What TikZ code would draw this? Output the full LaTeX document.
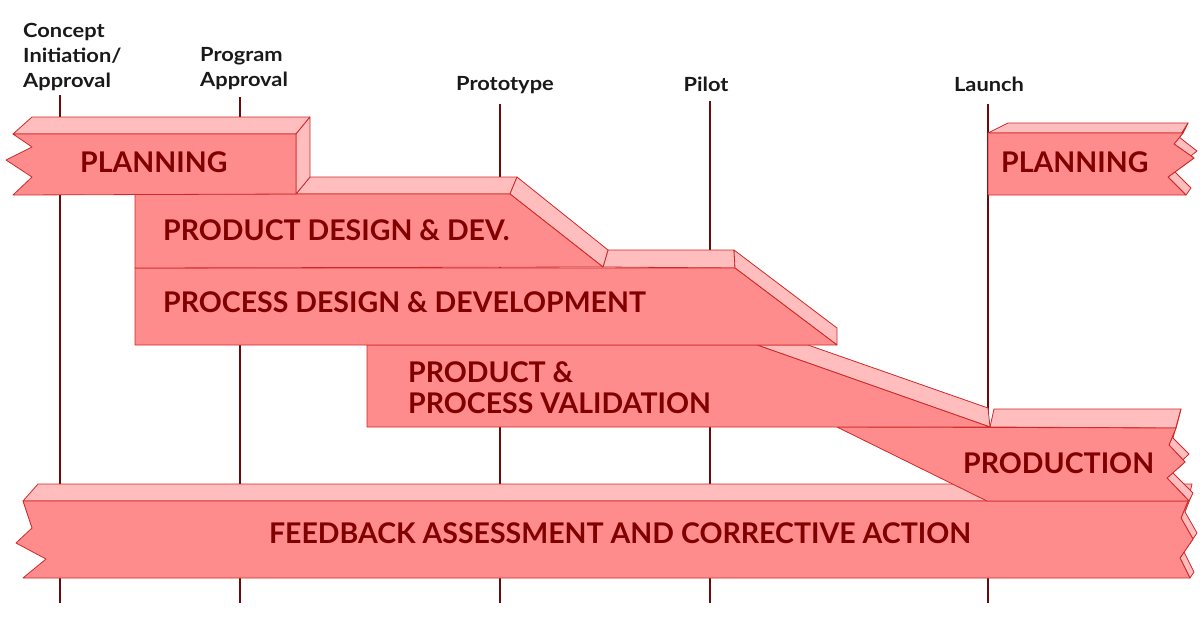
\documentclass[tikz,border=0pt]{standalone}
\usepackage{fontspec}
\setmainfont{Lato}
\newfontfamily\gatefont[FakeStretch=1.12]{Lato}
\usepackage{tikz}

\definecolor{barfront}{HTML}{FF8C8C}
\definecolor{barside}{HTML}{FFBDBD}
\definecolor{baredge}{HTML}{D02828}
\definecolor{bartext}{HTML}{800000}
\definecolor{mileline}{HTML}{6A0A0A}

\begin{document}
\begin{tikzpicture}[x=1pt,y=-1pt]
    \tikzstyle{front} = [fill=barfront, draw=baredge, line width=0.8pt, line join=round]
    \tikzstyle{side} = [fill=barside, draw=baredge, line width=0.8pt, line join=round]
    \tikzstyle{phase} = [font=\bfseries\fontsize{28.5}{31}\selectfont, text=bartext, inner sep=0pt, align=left]
    \tikzstyle{gate} = [font=\gatefont\bfseries\fontsize{19.5}{25}\selectfont, text=black!90, inner sep=0pt, align=left]
    \tikzstyle{milestone} = [draw=mileline, line width=1.6pt]
    \useasboundingbox (0,0) rectangle (1200,630);

    \node[gate, anchor=south west] (concept) at (23,91) {Concept\\Initiation/\\Approval};
    \node[gate, anchor=south west] (program) at (200,90) {Program\\Approval};
    \node[gate, anchor=base] (proto) at (505,90) {Prototype};
    \node[gate, anchor=base] (pilot) at (706,91) {Pilot};
    \node[gate, anchor=base] (launch) at (989,91) {Launch};

    \foreach \x/\t in {60/95, 240/97, 500/104, 710/101, 988/104} {
        \draw[milestone] (\x,\t) -- (\x,603);
    }

    % feedback
    \draw[side] (23,501) -- (38,484) -- (1192,484) -- (1188,501) -- cycle;
    \draw[side] (1188,501) -- (1192,494) -- (1185,512) -- (1197,533) -- (1184,552) -- (1194,572) -- (1190,578)
        -- (1180,558) -- (1193,539) -- (1181,518) -- cycle;
    \draw[front] (23,501) -- (1188,501) -- (1181,518) -- (1193,539) -- (1180,558) -- (1190,578)
        -- (23,578) -- (46,559) -- (16,543) -- (32,528) -- cycle;
    \node[phase, anchor=base] (feedback) at (620,543) {FEEDBACK ASSESSMENT AND CORRECTIVE ACTION};

    % production
    \draw[side] (990,427) -- (994,409) -- (1181,409) -- (1176,428) -- cycle;
    \draw[side] (1176,428) -- (1181,409) -- (1173,438) -- (1189,454) -- (1171,471) -- (1193,493) -- (1189,501)
        -- (1167,478) -- (1185,462) -- (1169,445) -- cycle;
    \draw[front] (837,427) -- (1176,428) -- (1169,445) -- (1185,462) -- (1167,478) -- (1189,501)
        -- (987,501) -- cycle;
    \node[phase, anchor=base west] (production) at (963,473) {PRODUCTION};

    % validation
    \draw[side] (757,345) -- (808,345) -- (988,408) -- (990,427) -- cycle;
    \draw[front] (367,345) -- (757,345) -- (990,427) -- (367,427) -- cycle;
    \node[phase, anchor=base west] (validation) at (408,413) {PRODUCT \&\\PROCESS VALIDATION};

    % process design
    \draw[side] (603,267) -- (608,250) -- (734,250) -- (735,268) -- cycle;
    \draw[side] (735,268) -- (734,250) -- (837,328) -- (837,345) -- cycle;
    \draw[front] (135,268) -- (735,268) -- (837,345) -- (135,345) -- cycle;
    \node[phase, anchor=base west] (process) at (163,312) {PROCESS DESIGN \& DEVELOPMENT};

    % product design
    \draw[side] (296,194) -- (310,177) -- (517,177) -- (510,194) -- cycle;
    \draw[side] (510,194) -- (517,177) -- (608,250) -- (603,267) -- cycle;
    \draw[front] (135,194) -- (510,194) -- (603,267) -- (135,268) -- cycle;
    \node[phase, anchor=base west] (product) at (163,240) {PRODUCT DESIGN \& DEV.};

    % planning
    \draw[side] (13,134) -- (32,117) -- (310,117) -- (296,134) -- cycle;
    \draw[side] (296,134) -- (310,117) -- (310,177) -- (296,194) -- cycle;
    \draw[front] (13,134) -- (296,134) -- (296,194) -- (13,195) -- (32,177) -- (6,160) -- (32,147) -- cycle;
    \node[phase, anchor=base west] (planA) at (80,172) {PLANNING};

    \draw[side] (988,133) -- (1008,123) -- (1188,123) -- (1183,133) -- cycle;
    \draw[side] (1183,133) -- (1188,123) -- (1179,137) -- (1197,151) -- (1173,170) -- (1191,188) -- (1186,195)
        -- (1168,177) -- (1194,158) -- (1174,144) -- cycle;
    \draw[front] (988,133) -- (1183,133) -- (1174,144) -- (1194,158) -- (1168,177) -- (1186,195) -- (988,195) -- cycle;
    \node[phase, anchor=base west] (planB) at (1001,172) {PLANNING};
\end{tikzpicture}
\end{document}
